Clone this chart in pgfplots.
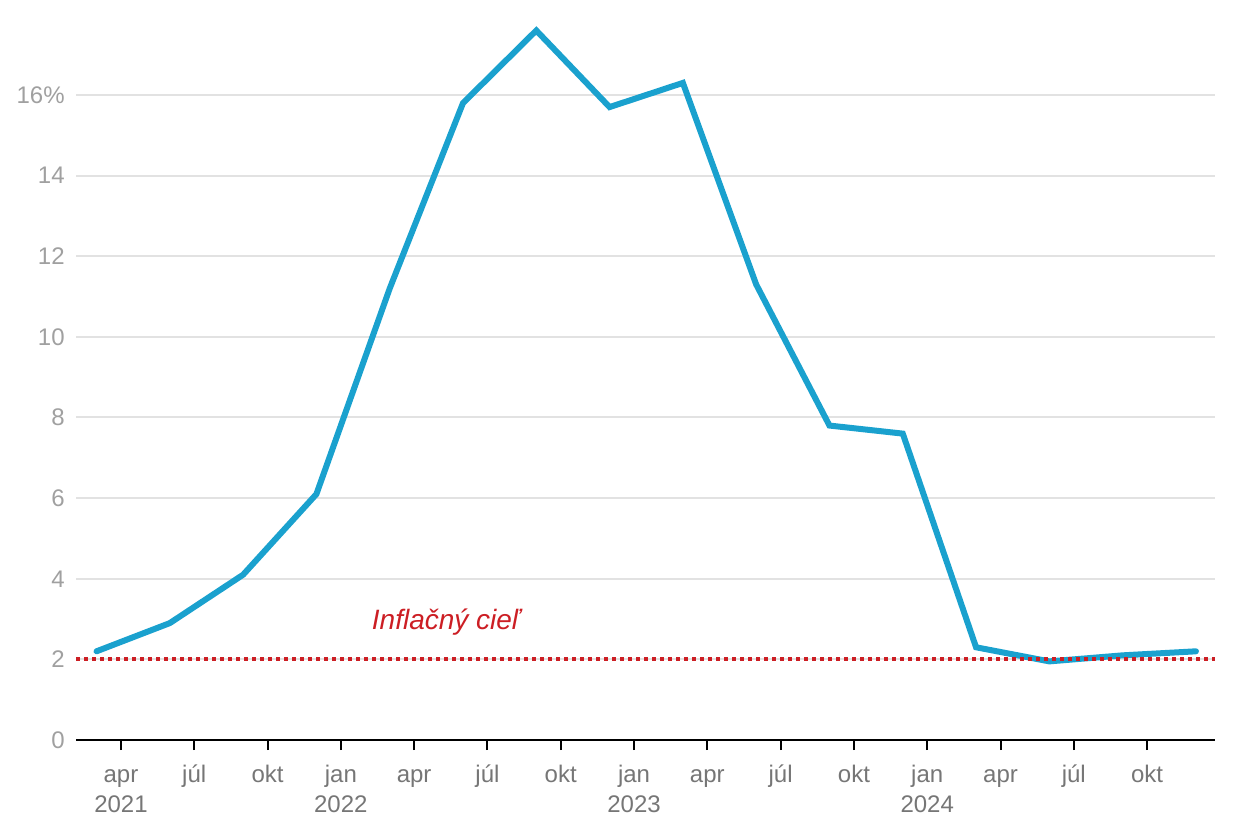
\documentclass[border=0pt]{standalone}
\usepackage{fontspec}
\setmainfont{Liberation Sans}
\usepackage{pgfplots}
\pgfplotsset{compat=1.18}
\definecolor{lineblue}{RGB}{26,161,206}
\definecolor{targetred}{RGB}{204,30,36}
\definecolor{gridgray}{RGB}{226,226,226}
\definecolor{ylab}{RGB}{160,160,160}
\definecolor{xlab}{RGB}{118,118,118}
\newcommand{\ql}[1]{\strut #1}
\newcommand{\qy}[2]{\strut #1\\\strut #2}
\begin{document}
\begin{tikzpicture}
\useasboundingbox (0,0) rectangle (620bp,420bp);
\begin{axis}[
  at={(38bp,50bp)}, anchor=south west,
  scale only axis,
  width=569.5bp, height=360.8bp,
  xmin=1.16, xmax=47.78,
  ymin=0, ymax=17.9,
  axis line style={draw=none},
  axis x line*=bottom,
  axis y line=none,
  xtick={3,6,9,12,15,18,21,24,27,30,33,36,39,42,45},
  xticklabels={\qy{apr}{2021},\ql{júl},\ql{okt},\qy{jan}{2022},\ql{apr},\ql{júl},\ql{okt},\qy{jan}{2023},\ql{apr},\ql{júl},\ql{okt},\qy{jan}{2024},\ql{apr},\ql{júl},\ql{okt}},
  x tick label style={align=center, anchor=north, font=\fontsize{12bp}{15bp}\selectfont, text=xlab, yshift=-2bp},
  xtick style={draw=black, line width=1bp},
  tick align=outside,
  major tick length=5bp,
  ytick=\empty,
  clip=false,
]
% light horizontal gridlines with their labels
\pgfplotsinvokeforeach{2,4,6,8,10,12,14,16}{
  \addplot[gridgray, line width=1bp, forget plot] coordinates {(1.16,#1) (47.78,#1)};
}
\foreach \v/\t in {0/0,2/2,4/4,6/6,8/8,10/10,12/12,14/14,16/16\%}{
  \edef\tmp{\noexpand\node[anchor=east, text=ylab, font=\noexpand\fontsize{12bp}{14bp}\noexpand\selectfont, inner sep=0pt] at (axis cs:1.16,\v) [xshift=-5.5bp] {\t};}
  \tmp
}
% baseline
\addplot[black, line width=1bp, forget plot] coordinates {(1.16,0) (47.78,0)};
% year-on-year inflation, quarterly
\addplot[lineblue, line width=3bp, line join=miter, line cap=round] coordinates {
  (2,2.2) (5,2.9) (8,4.1) (11,6.1) (14,11.2) (17,15.8) (20,17.6) (23,15.7)
  (26,16.3) (29,11.3) (32,7.8) (35,7.6) (38,2.3) (41,1.95) (44,2.1) (47,2.2)
};
% inflation target
\addplot[targetred, line width=2bp, dash pattern=on 2bp off 2bp] coordinates {(1.16,2) (47.78,2)};
\node[text=targetred, font=\fontsize{14bp}{16bp}\selectfont\itshape] at (axis cs:16.3,2.93) {Inflačný cieľ};
\end{axis}
\end{tikzpicture}
\end{document}
